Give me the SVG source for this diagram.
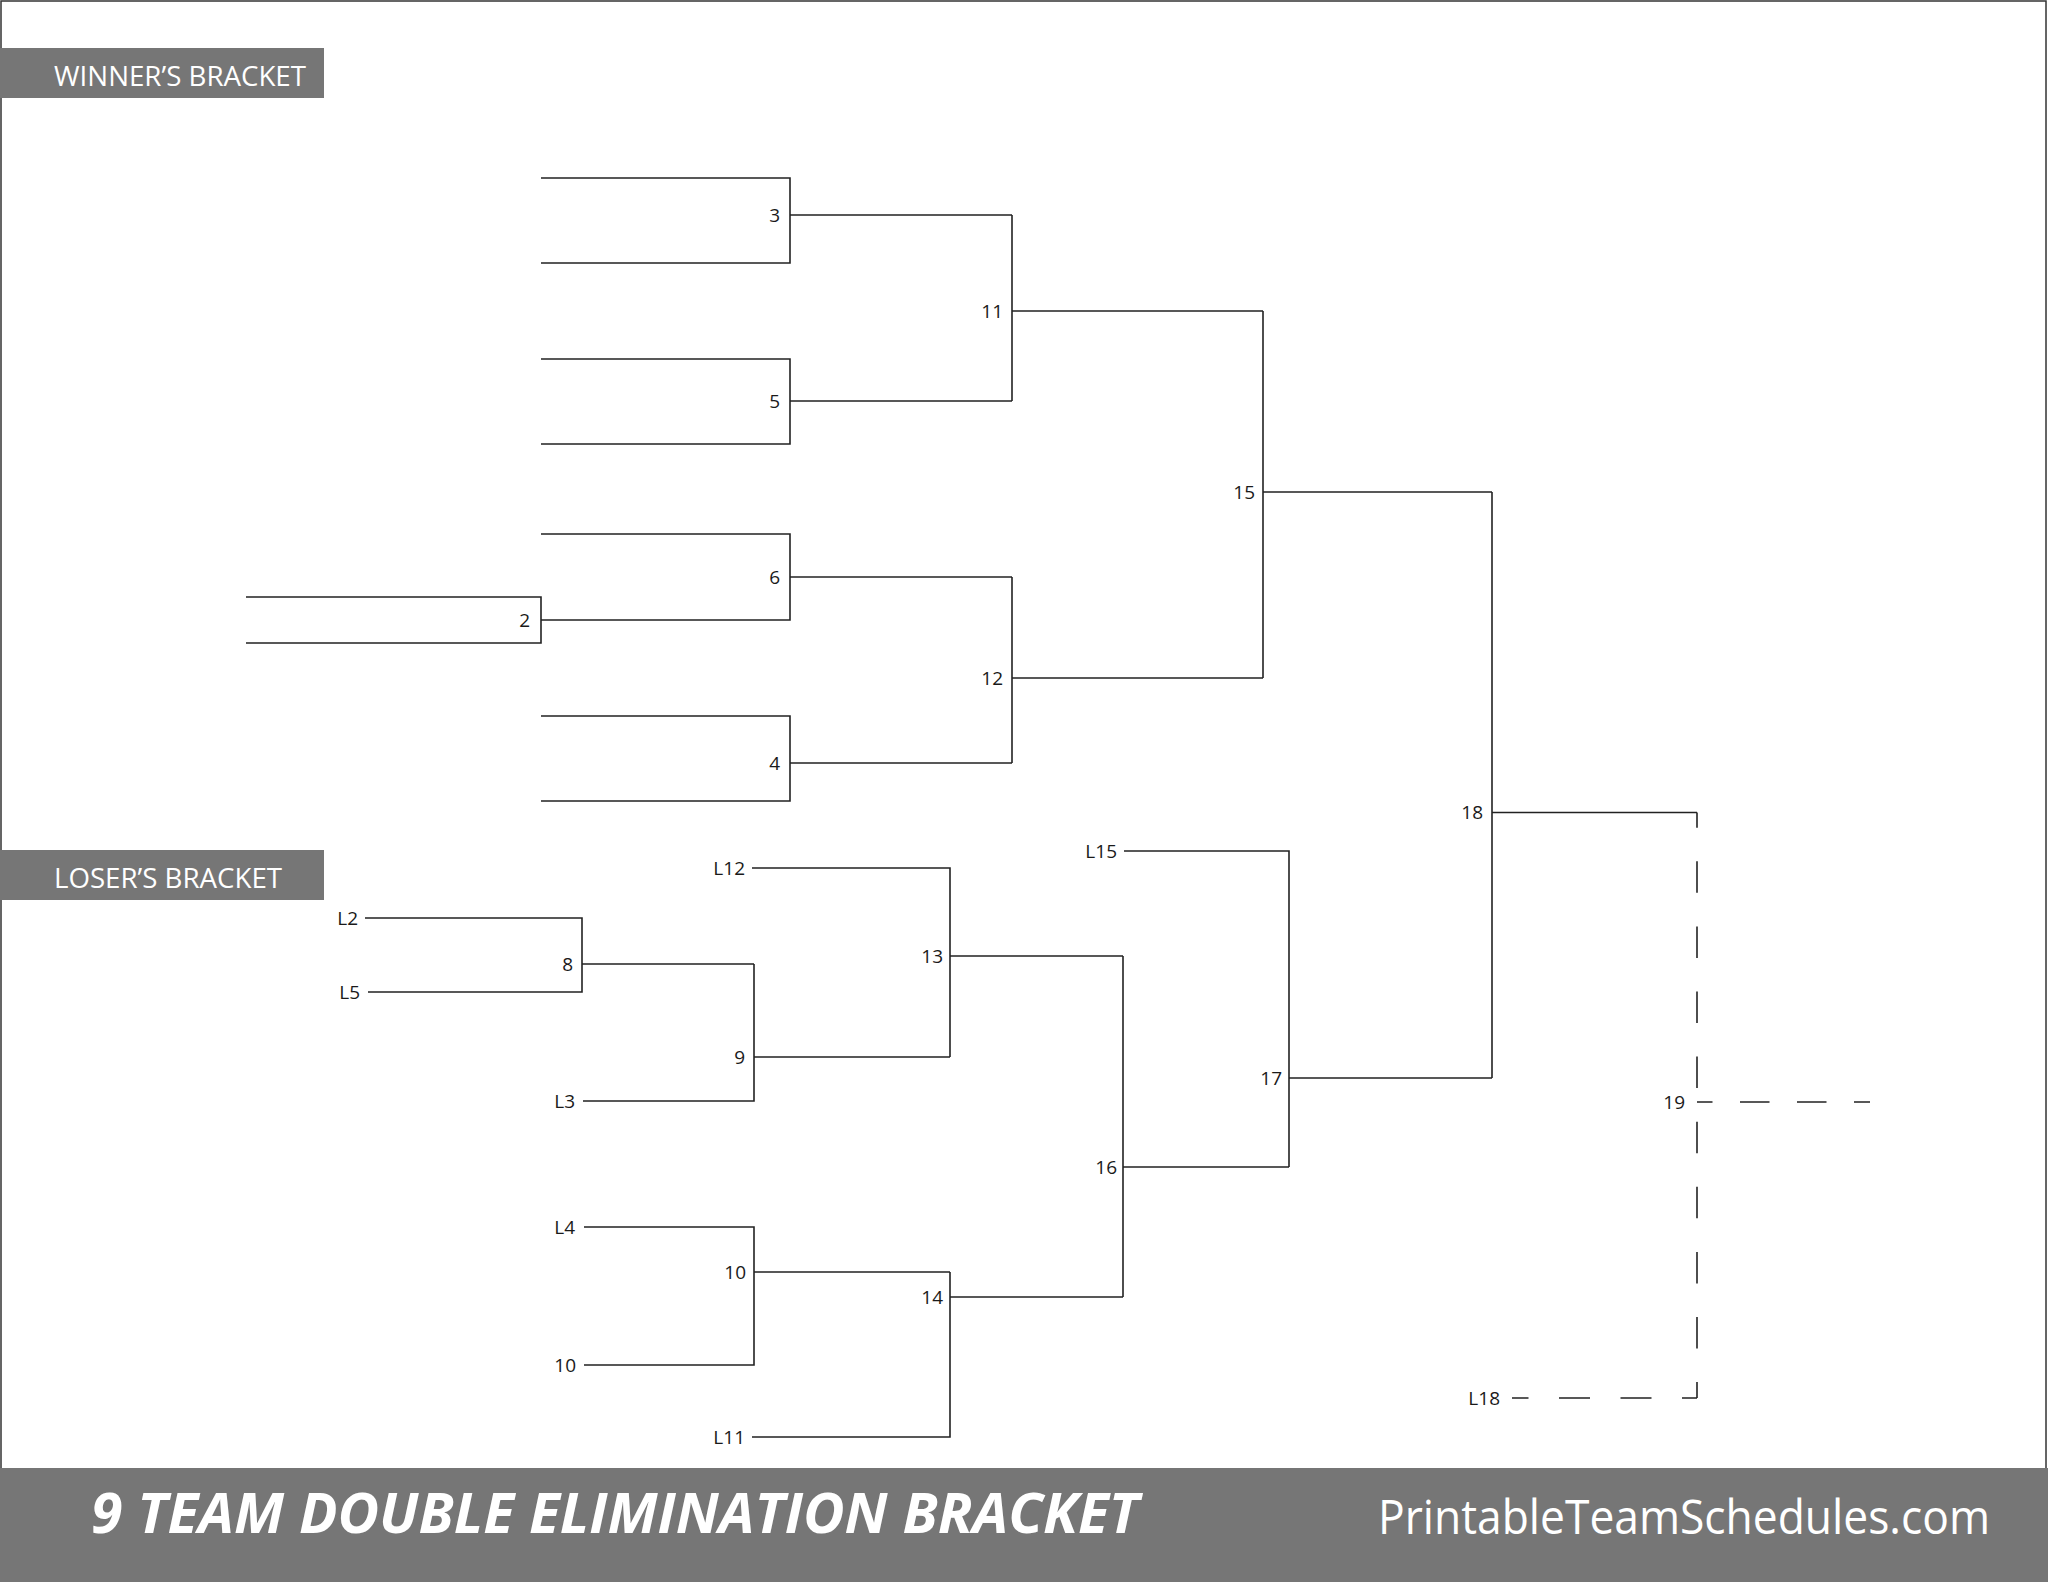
<svg xmlns="http://www.w3.org/2000/svg" width="2048" height="1582" viewBox="0 0 2048 1582">
<style>
.ln{fill:none;stroke:#222;stroke-width:1.6;}
.ds{fill:none;stroke:#222;stroke-width:1.6;}
.lb{font-family:"Open Sans","Noto Sans","Liberation Sans",sans-serif;font-size:19px;fill:#1a1a1a;text-anchor:end;}
.hd{font-family:"Open Sans","Noto Sans","Liberation Sans",sans-serif;font-size:28px;fill:#fff;}
.bar{fill:#767676;}
</style>
<rect x="0" y="0" width="2048" height="1582" fill="#fff"/>
<rect x="1" y="1" width="2045" height="1475" fill="#fff" stroke="#333" stroke-width="1.5"/>

<g id="winners-header">
<rect class="bar" x="0" y="48" width="324" height="50"/>
<text class="hd" x="54" y="86" textLength="252" lengthAdjust="spacingAndGlyphs">WINNER’S BRACKET</text>
</g>
<g id="losers-header">
<rect class="bar" x="0" y="850" width="324" height="50"/>
<text class="hd" x="54" y="888" textLength="228" lengthAdjust="spacingAndGlyphs">LOSER’S BRACKET</text>
</g>

<g id="connectors">
<path class="ln" d="M541 178H790V263H541M790 215H1012"/>
<path class="ln" d="M541 359H790V444H541M790 401H1012"/>
<path class="ln" d="M1012 215V401M1012 311H1263"/>
<path class="ln" d="M541 534H790V620H541"/>
<path class="ln" d="M246 597H541V643H246"/>
<path class="ln" d="M790 577H1012"/>
<path class="ln" d="M541 716H790V801H541M790 763H1012"/>
<path class="ln" d="M1012 577V763M1012 678H1263"/>
<path class="ln" d="M1263 311V678M1263 492H1492"/>
<path class="ln" d="M1492 492V1078M1492 812.5H1697"/>
<path class="ln" d="M365 918H582V992H368M582 964H754"/>
<path class="ln" d="M583 1101H754V964M754 1057H950"/>
<path class="ln" d="M752 868H950V1057M950 956H1123"/>
<path class="ln" d="M584 1227H754V1365H584M754 1272H950"/>
<path class="ln" d="M752 1437H950V1272M950 1297H1123"/>
<path class="ln" d="M1123 956V1297M1123 1167H1289"/>
<path class="ln" d="M1124 851H1289V1167M1289 1078H1492"/>
<path class="ds" d="M1697 812.5V1398" stroke-dasharray="31.5 33.6" stroke-dashoffset="16.3"/>
<path class="ds" d="M1697 1398H1512" stroke-dasharray="31 30.5" stroke-dashoffset="16"/>
<path class="ds" d="M1697 1102H1870" stroke-width="2.2" stroke-dasharray="29.5 27.5" stroke-dashoffset="14"/>
</g>

<g id="match-2"><text class="lb" x="530" y="627">2</text></g>
<g id="match-3"><text class="lb" x="780" y="222">3</text></g>
<g id="match-4"><text class="lb" x="780" y="770">4</text></g>
<g id="match-5"><text class="lb" x="780" y="408">5</text></g>
<g id="match-6"><text class="lb" x="780" y="584">6</text></g>
<g id="match-11"><text class="lb" x="1003" y="318">11</text></g>
<g id="match-12"><text class="lb" x="1003" y="685">12</text></g>
<g id="match-15"><text class="lb" x="1255" y="499">15</text></g>
<g id="match-18"><text class="lb" x="1483" y="819">18</text></g>
<g id="match-8"><text class="lb" x="573" y="971">8</text></g>
<g id="match-9"><text class="lb" x="745" y="1064">9</text></g>
<g id="match-13"><text class="lb" x="943" y="963">13</text></g>
<g id="match-10"><text class="lb" x="746" y="1279">10</text></g>
<g id="match-14"><text class="lb" x="943" y="1304">14</text></g>
<g id="match-16"><text class="lb" x="1117" y="1174">16</text></g>
<g id="match-17"><text class="lb" x="1282" y="1085">17</text></g>
<g id="match-19"><text class="lb" x="1685" y="1109">19</text></g>
<g id="seed-L2"><text class="lb" x="358" y="925">L2</text></g>
<g id="seed-L5"><text class="lb" x="360" y="999">L5</text></g>
<g id="seed-L3"><text class="lb" x="575" y="1108">L3</text></g>
<g id="seed-L12"><text class="lb" x="745" y="875">L12</text></g>
<g id="seed-L4"><text class="lb" x="575" y="1234">L4</text></g>
<g id="seed-10"><text class="lb" x="576" y="1372">10</text></g>
<g id="seed-L11"><text class="lb" x="745" y="1444">L11</text></g>
<g id="seed-L15"><text class="lb" x="1117" y="858">L15</text></g>
<g id="seed-L18"><text class="lb" x="1500" y="1405">L18</text></g>

<g id="footer">
<rect class="bar" x="0" y="1468" width="2048" height="114"/>
<text x="91" y="1533" font-family="'Open Sans','Noto Sans','Liberation Sans',sans-serif" font-size="56" font-weight="bold" font-style="italic" fill="#fff" textLength="1048" lengthAdjust="spacingAndGlyphs">9 TEAM DOUBLE ELIMINATION BRACKET</text>
<text x="1378" y="1534" font-family="'Open Sans','Noto Sans','Liberation Sans',sans-serif" font-size="47" fill="#fff" textLength="612" lengthAdjust="spacingAndGlyphs">PrintableTeamSchedules.com</text>
</g>
</svg>
